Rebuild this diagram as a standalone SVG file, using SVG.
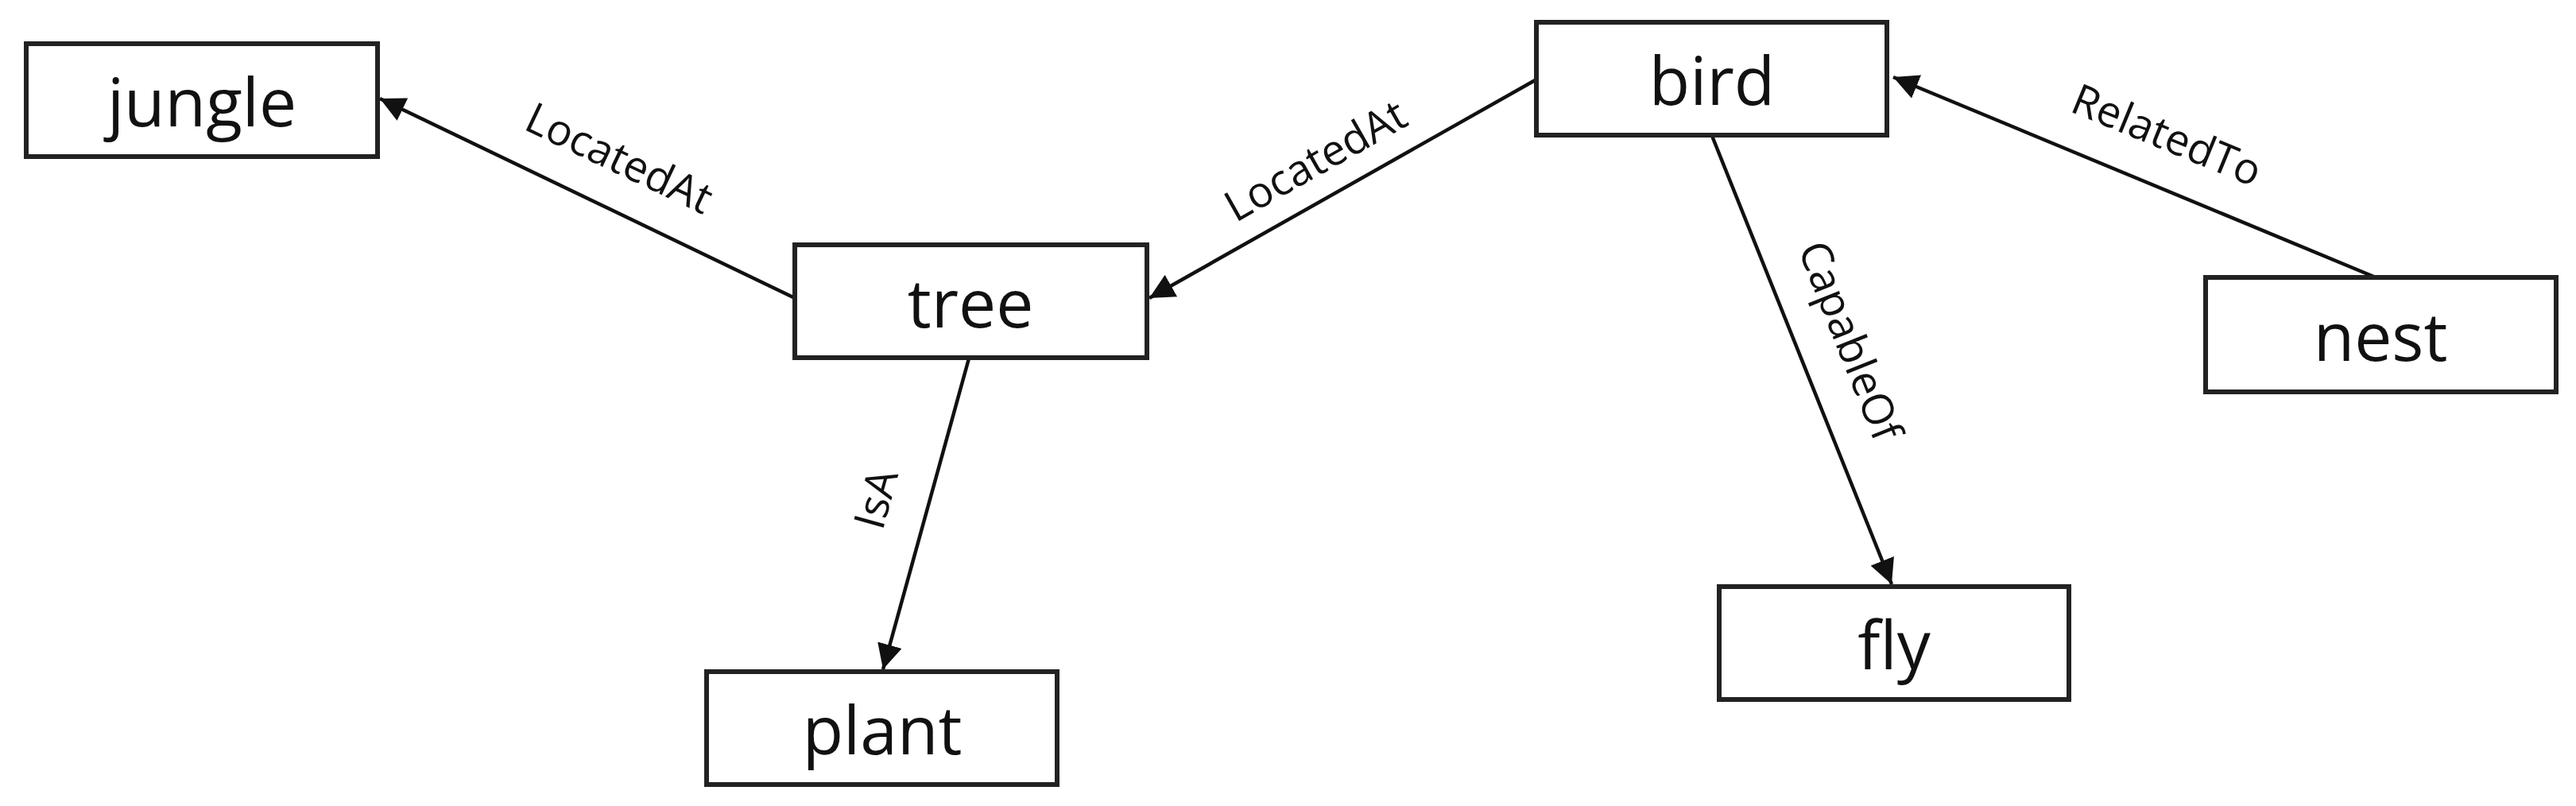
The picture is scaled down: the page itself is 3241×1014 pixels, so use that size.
<svg xmlns="http://www.w3.org/2000/svg" width="3241" height="1014" viewBox="0 0 3241 1014">
<style>
.box{fill:#fff;stroke:#222;stroke-width:6}
.nt{font-family:"Open Sans","Noto Sans",sans-serif;font-size:84px;fill:#111;text-anchor:middle;dominant-baseline:central}
.lb{font-family:"Open Sans","Noto Sans",sans-serif;font-size:54px;fill:#111;text-anchor:middle;dominant-baseline:central}
.e{stroke:#111;stroke-width:4.5;fill:none;marker-end:url(#ah)}
</style>
<defs><marker id="ah" viewBox="0 0 10 10" refX="10" refY="5" markerWidth="7" markerHeight="7" markerUnits="strokeWidth" orient="auto"><path d="M0,0L10,5L0,10z" fill="#111"/></marker></defs>
<rect width="3241" height="1014" fill="#fff"/>
<g id="connectors">
<line class="e" x1="1000" y1="375" x2="478" y2="124"/>
<line class="e" x1="1933" y1="100" x2="1446" y2="375"/>
<line class="e" x1="1219" y1="451" x2="1111" y2="842"/>
<line class="e" x1="2154" y1="171" x2="2380" y2="735"/>
<line class="e" x1="2989" y1="349" x2="2382" y2="97"/>
<text class="lb" transform="translate(780,197) rotate(25.4)">LocatedAt</text>
<text class="lb" transform="translate(1654,200) rotate(-29.5)">LocatedAt</text>
<text class="lb" transform="translate(1100,627) rotate(-74.5)">IsA</text>
<text class="lb" transform="translate(2330,428) rotate(68.3)">CapableOf</text>
<text class="lb" transform="translate(2727,168) rotate(22.4)">RelatedTo</text>
</g>
<g id="jungle"><rect class="box" x="33" y="55" width="442" height="142"/><text class="nt" x="254" y="126">jungle</text></g>
<g id="tree"><rect class="box" x="1000" y="308" width="443" height="142"/><text class="nt" x="1221" y="379">tree</text></g>
<g id="plant"><rect class="box" x="889" y="845" width="441" height="142"/><text class="nt" x="1110" y="916">plant</text></g>
<g id="bird"><rect class="box" x="1933" y="28" width="441" height="142"/><text class="nt" x="2154" y="99">bird</text></g>
<g id="fly"><rect class="box" x="2163" y="738" width="440" height="142"/><text class="nt" x="2383" y="809">fly</text></g>
<g id="nest"><rect class="box" x="2775" y="349" width="441" height="144"/><text class="nt" x="2995" y="421">nest</text></g>
</svg>
